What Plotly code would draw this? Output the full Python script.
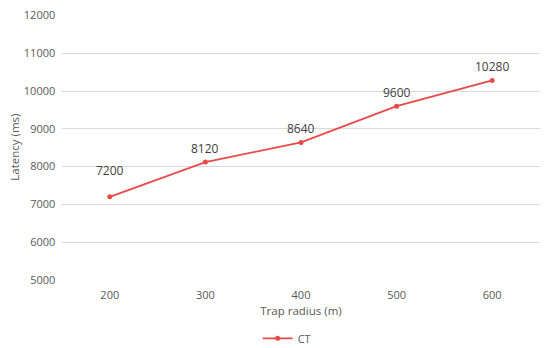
import plotly.graph_objects as go

radius = ["200", "300", "400", "500", "600"]
latency = [7200, 8120, 8640, 9600, 10280]
label_shift = [26, 14, 14, 14, 14]

red = "#E84A4A"
fig = go.Figure()
fig.add_trace(go.Scatter(
    x=radius, y=latency, mode="lines+markers", name="CT",
    line=dict(color=red, width=1.8), marker=dict(size=5, color=red),
))
for i, (y, s) in enumerate(zip(latency, label_shift)):
    fig.add_annotation(x=i, y=y, xref="x", yref="y", text=str(y), showarrow=False,
                       yshift=s, font=dict(size=12, color="#404040"))

fig.add_annotation(text="Latency (ms)", textangle=-90, xref="paper", yref="paper",
                   x=-0.1, y=0.5, xanchor="center", yanchor="middle", showarrow=False,
                   font=dict(size=11.5, color="#595959"))

fig.update_layout(
    width=550, height=348,
    margin=dict(l=62, r=10, t=15, b=68, autoexpand=False),
    paper_bgcolor="white", plot_bgcolor="white",
    font=dict(family="Open Sans, sans-serif", size=11, color="#595959"),
    showlegend=True,
    legend=dict(orientation="h", x=0.47, xanchor="center", y=-0.22, yanchor="middle",
                font=dict(size=11, color="#595959"), itemwidth=30),
    xaxis=dict(type="category", range=[-0.5, 4.5], showgrid=False, showline=False,
               automargin=False, ticks="outside", ticklen=5, tickcolor="rgba(0,0,0,0)",
               title=dict(text="Trap radius (m)", standoff=5,
                          font=dict(size=11.5, color="#595959"))),
    yaxis=dict(range=[5000, 12012], dtick=1000, tickformat="d", showgrid=True,
               gridcolor="#D9D9D9", gridwidth=1, zeroline=False, showline=False,
               automargin=False, ticks="", ticksuffix="  "),
)
fig.write_html("out.html", post_script="document.body.style.margin='0';",
               config={"displayModeBar": False})
